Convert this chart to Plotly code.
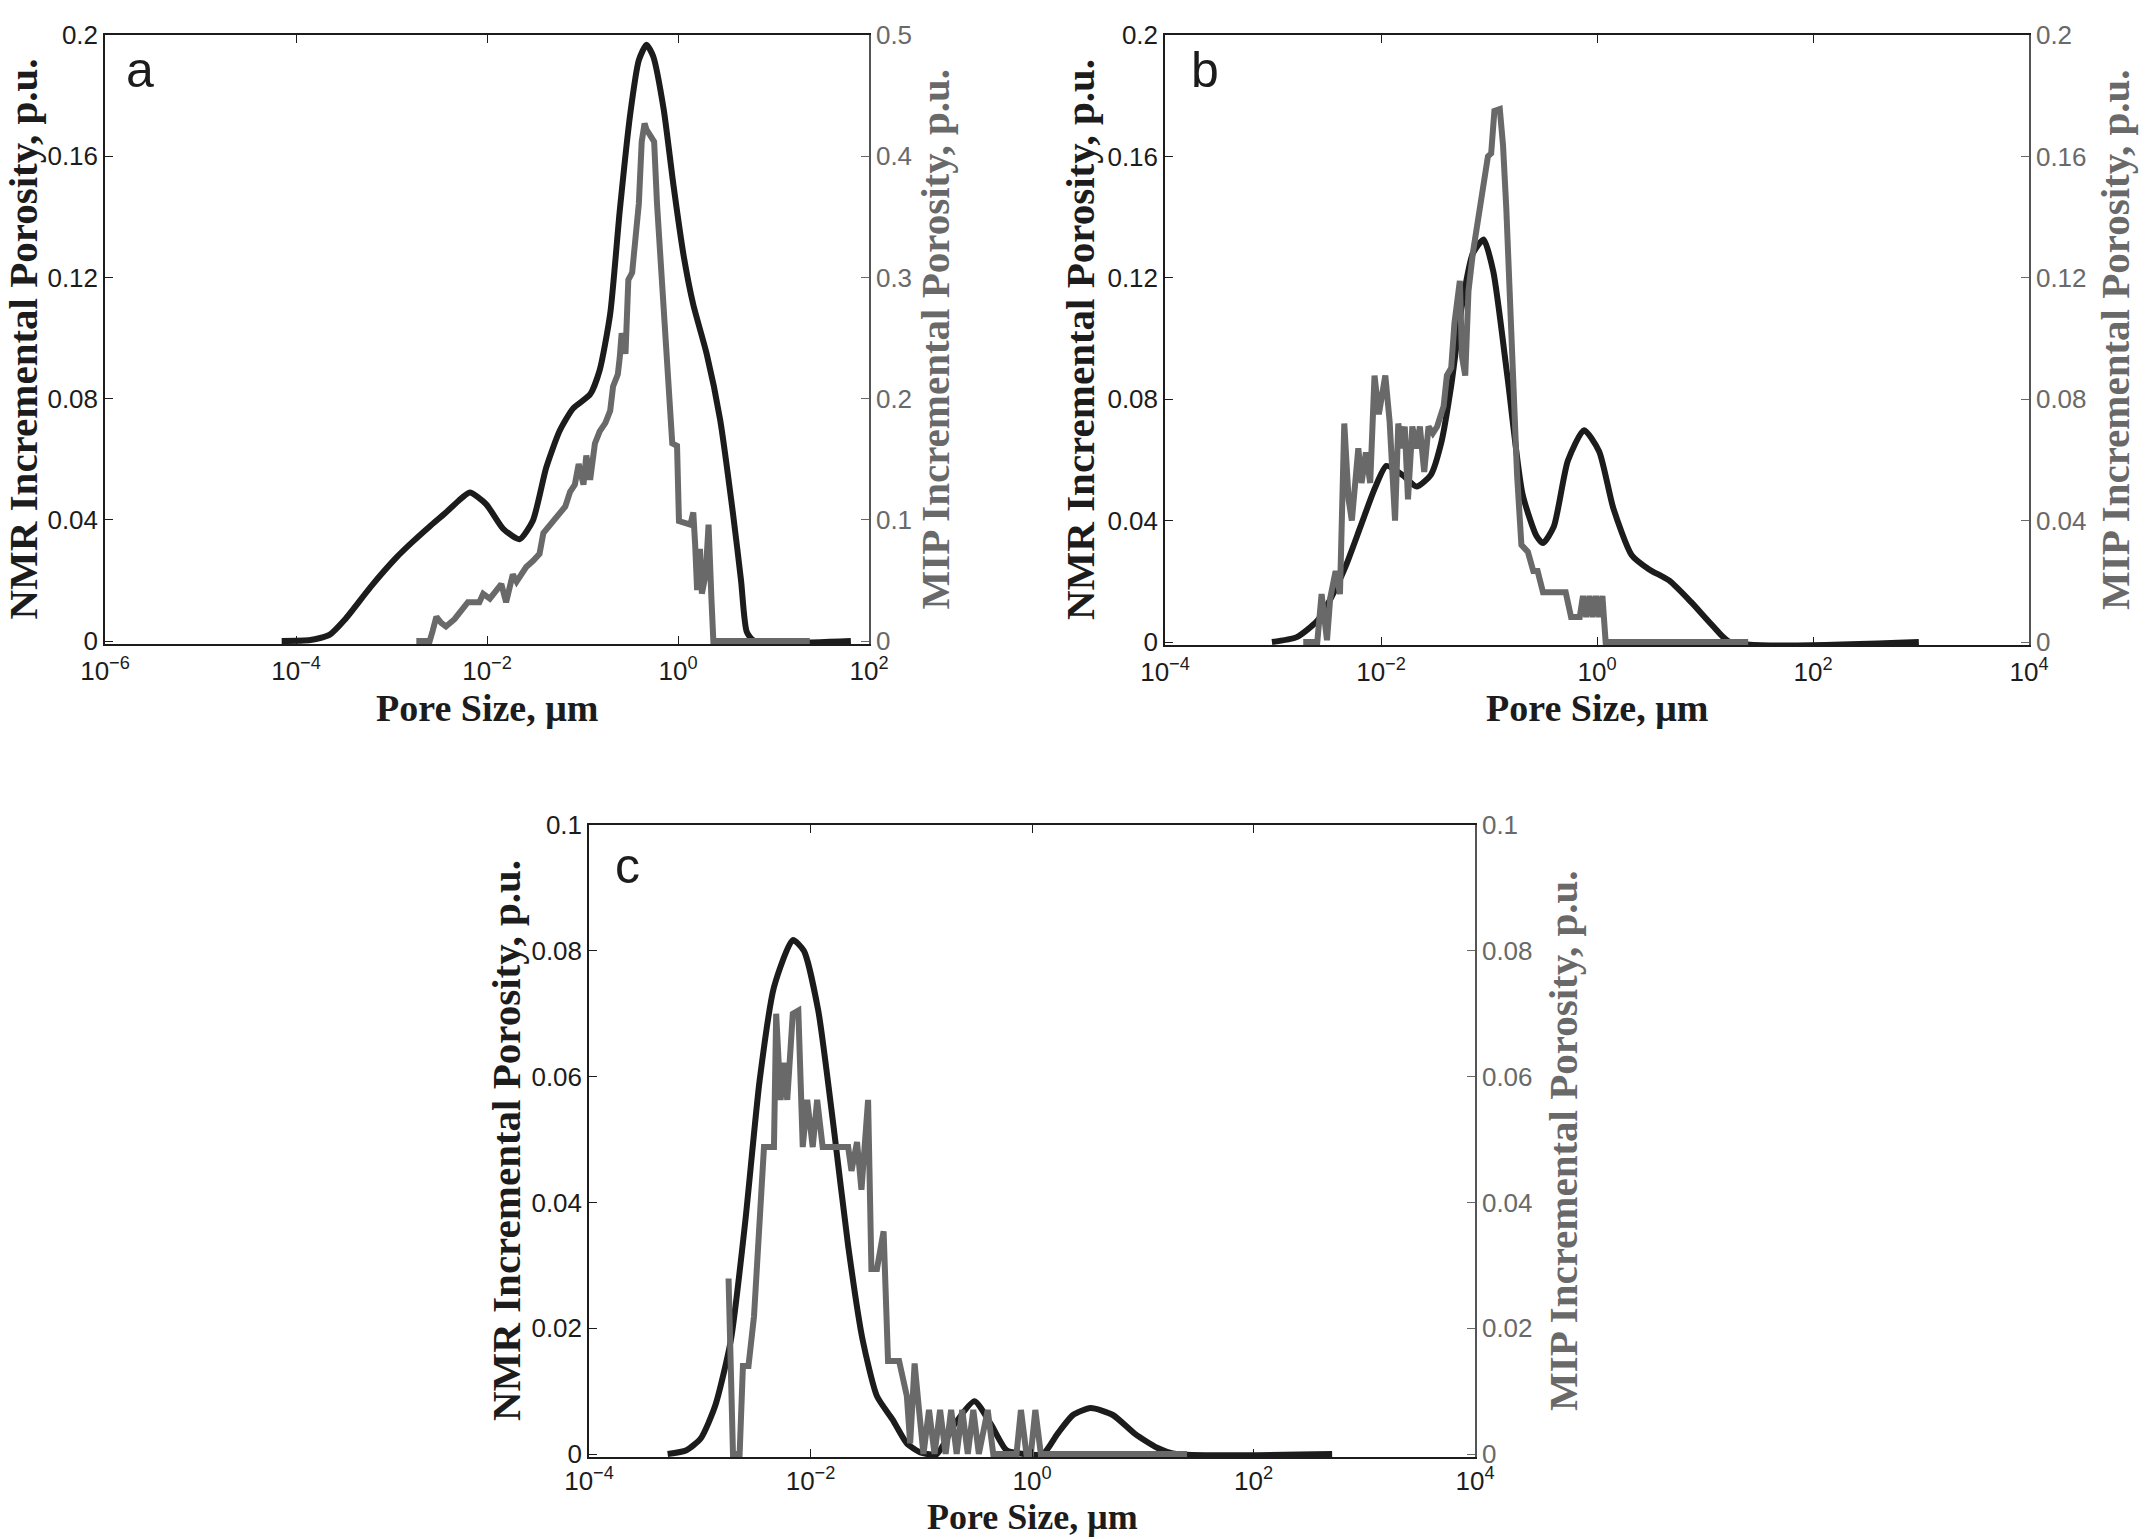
import plotly.graph_objects as go

# ---------------- data (pore size given as log10 of diameter in micrometres) ----------------
# Panel a
a_nmr_logd = [-4.15, -3.85, -3.65, -3.49, -3.22, -2.95, -2.78, -2.60, -2.43, -2.30, -2.18, -2.01,
              -1.83, -1.66, -1.52, -1.38, -1.24, -1.10, -0.92, -0.82, -0.71, -0.61, -0.50, -0.41,
              -0.33, -0.26, -0.15, -0.05, 0.06, 0.16, 0.30, 0.44, 0.58, 0.66, 0.72, 0.80, 1.81]
a_nmr_val = [0, 0.0003, 0.002, 0.007, 0.0178, 0.0275, 0.0327, 0.0378, 0.0424, 0.0462, 0.049, 0.0452,
             0.037, 0.0336, 0.0397, 0.0572, 0.0693, 0.0767, 0.0814, 0.0894, 0.108, 0.142, 0.174, 0.1917,
             0.1968, 0.193, 0.1755, 0.151, 0.127, 0.111, 0.0948, 0.0733, 0.041, 0.02, 0.003, 0, 0]
a_mip_logd = [-2.74, -2.60, -2.57, -2.53, -2.48, -2.43, -2.34, -2.27, -2.20, -2.08, -2.04, -1.97,
              -1.92, -1.85, -1.80, -1.73, -1.69, -1.59, -1.52, -1.45, -1.41, -1.32, -1.25, -1.18,
              -1.13, -1.08, -1.04, -0.99, -0.96, -0.92, -0.87, -0.82, -0.76, -0.71, -0.68, -0.63,
              -0.61, -0.59, -0.55, -0.52, -0.48, -0.45, -0.41, -0.38, -0.35, -0.33, -0.25, -0.22,
              -0.17, -0.12, -0.06, -0.01, 0.01, 0.13, 0.16, 0.18, 0.20, 0.23, 0.25, 0.29, 0.32,
              0.35, 0.37, 1.38]
a_mip_val = [0, 0, 0.008, 0.02, 0.015, 0.012, 0.018, 0.025, 0.032, 0.032, 0.039, 0.035,
             0.040, 0.047, 0.032, 0.055, 0.049, 0.061, 0.066, 0.072, 0.089, 0.098, 0.104, 0.111,
             0.123, 0.129, 0.146, 0.129, 0.153, 0.133, 0.163, 0.173, 0.180, 0.190, 0.210, 0.220,
             0.234, 0.254, 0.237, 0.298, 0.304, 0.328, 0.361, 0.412, 0.427, 0.422, 0.412, 0.361,
             0.294, 0.227, 0.163, 0.161, 0.099, 0.096, 0.106, 0.079, 0.042, 0.076, 0.039, 0.055, 0.096,
             0.035, 0, 0]

# Panel b
b_nmr_logd = [-3.01, -2.78, -2.59, -2.46, -2.32, -2.19, -2.06, -1.95, -1.80, -1.67, -1.54, -1.44,
              -1.35, -1.25, -1.15, -1.05, -0.96, -0.83, -0.69, -0.56, -0.50, -0.40, -0.27, -0.12,
              0.02, 0.15, 0.32, 0.48, 0.67, 0.87, 1.07, 1.23, 2.98]
b_nmr_val = [0, 0.0016, 0.007, 0.0147, 0.0256, 0.038, 0.0504, 0.058, 0.055, 0.0512, 0.055, 0.066,
             0.0845, 0.111, 0.128, 0.1326, 0.122, 0.0876, 0.0488, 0.0349, 0.0326, 0.038, 0.0597, 0.0698,
             0.0628, 0.0442, 0.0287, 0.024, 0.0202, 0.0132, 0.0054, 0, 0]
b_mip_logd = [-2.72, -2.59, -2.55, -2.50, -2.47, -2.42, -2.38, -2.34, -2.30, -2.27, -2.21, -2.18,
              -2.14, -2.10, -2.06, -2.02, -1.96, -1.92, -1.87, -1.84, -1.81, -1.78, -1.75, -1.71,
              -1.67, -1.64, -1.60, -1.56, -1.52, -1.48, -1.42, -1.39, -1.35, -1.32, -1.27, -1.25,
              -1.22, -1.19, -1.15, -1.09, -1.04, -1.01, -0.98, -0.95, -0.90, -0.87, -0.84, -0.81,
              -0.78, -0.74, -0.70, -0.64, -0.59, -0.55, -0.50, -0.29, -0.24, -0.16, -0.13, -0.10,
              -0.07, -0.04, -0.01, 0.02, 0.05, 0.08, 1.40]
b_mip_val = [0, 0, 0.0158, 0.0006, 0.0145, 0.0234, 0.0158, 0.072, 0.047, 0.040, 0.0638, 0.0524,
             0.0625, 0.0524, 0.0878, 0.075, 0.0878, 0.0726, 0.040, 0.072, 0.0638, 0.071, 0.047, 0.071,
             0.0638, 0.071, 0.056, 0.071, 0.0688, 0.071, 0.0777, 0.0878, 0.0903, 0.105, 0.119, 0.094,
             0.0878, 0.1156, 0.128, 0.142, 0.156, 0.160, 0.161, 0.175, 0.1756, 0.1636, 0.143, 0.113,
             0.085, 0.055, 0.032, 0.0297, 0.0234, 0.0234, 0.0164, 0.0164, 0.0082, 0.0082, 0.0152, 0.0082,
             0.0152, 0.0082, 0.0152, 0.0082, 0.0152, 0, 0]

# Panel c
c_nmr_logd = [-3.29, -3.12, -2.99, -2.86, -2.72, -2.59, -2.46, -2.33, -2.16, -2.06, -1.93, -1.79,
              -1.66, -1.53, -1.40, -1.26, -1.13, -1.00, -0.86, -0.70, -0.52, -0.37, -0.23, -0.07,
              0.10, 0.23, 0.37, 0.53, 0.73, 0.93, 1.13, 1.30, 2.71]
c_nmr_val = [0, 0.0006, 0.0025, 0.0077, 0.018, 0.0368, 0.0593, 0.0742, 0.0817, 0.080, 0.0705, 0.0518,
             0.0331, 0.0182, 0.0092, 0.0055, 0.0017, 0.0002, 0, 0.0047, 0.0084, 0.0047, 0.0006, 0,
             0, 0.0032, 0.0062, 0.0073, 0.0062, 0.0032, 0.001, 0, 0]
c_mip_logd = [-2.74, -2.70, -2.64, -2.61, -2.56, -2.51, -2.42, -2.33, -2.31, -2.27, -2.24, -2.21,
              -2.16, -2.11, -2.07, -2.03, -1.98, -1.94, -1.89, -1.66, -1.63, -1.58, -1.54, -1.48,
              -1.45, -1.40, -1.34, -1.30, -1.20, -1.13, -1.10, -1.06, -1.02, -0.98, -0.93, -0.88,
              -0.83, -0.78, -0.73, -0.68, -0.63, -0.58, -0.53, -0.48, -0.40, -0.35, -0.14, -0.10,
              -0.05, -0.01, 0.03, 0.08, 1.40]
c_mip_val = [0.0279, 0, 0, 0.014, 0.014, 0.0219, 0.0488, 0.0488, 0.070, 0.0563, 0.0622, 0.0563,
             0.070, 0.0705, 0.0488, 0.0563, 0.0488, 0.0563, 0.0488, 0.0488, 0.045, 0.0496, 0.042, 0.0563,
             0.0294, 0.0294, 0.0354, 0.0148, 0.0148, 0.0092, 0.0017, 0.0144, 0.007, 0, 0.007, 0,
             0.007, 0, 0.007, 0, 0.007, 0, 0.007, 0, 0.007, 0, 0, 0.007,
             0, 0, 0.007, 0, 0]

# axis ticks
a_x_exps = [-6, -4, -2, 0, 2]
bc_x_exps = [-4, -2, 0, 2, 4]
ab_left_ticks = [0, 0.04, 0.08, 0.12, 0.16, 0.2]
ab_left_text = ["0", "0.04", "0.08", "0.12", "0.16", "0.2"]
a_right_ticks = [0, 0.1, 0.2, 0.3, 0.4, 0.5]
a_right_text = ["0", "0.1", "0.2", "0.3", "0.4", "0.5"]
c_ticks = [0, 0.02, 0.04, 0.06, 0.08, 0.1]
c_text = ["0", "0.02", "0.04", "0.06", "0.08", "0.1"]

panel_labels = ["a", "b", "c"]
x_title = "Pore Size, μm"
y_left_title = "NMR Incremental Porosity, p.u."
y_right_title = "MIP Incremental Porosity, p.u."

# ---------------- styling ----------------
W, H = 2153, 1539
BLACK = "#1c1c1c"
GRAY = "#696969"
TICK_FONT = dict(family="Liberation Sans, Arial, sans-serif", size=26)
TITLE_FONT = "Liberation Serif, Times New Roman, serif"

# plot-area boxes in pixels: (left, right, top, bottom)
boxes = [(105, 869, 35, 644), (1165, 2029, 35, 645), (589, 1475, 825, 1457)]


def xdom(b):
    return [b[0] / W, b[1] / W]


def ydom(b):
    return [1 - b[3] / H, 1 - b[2] / H]


def exps_text(exps):
    return ["10<sup>" + ("−" if e < 0 else "") + str(abs(e)) + "</sup>" for e in exps]


def yrange(top, box):
    # start slightly below zero so that the thick zero-level lines are not clipped
    pad_px = 3.0
    span_px = box[3] - box[2]
    return [-top * pad_px / (span_px - pad_px), top]


fig = go.Figure()

panels = [
    (a_nmr_logd, a_nmr_val, a_mip_logd, a_mip_val),
    (b_nmr_logd, b_nmr_val, b_mip_logd, b_mip_val),
    (c_nmr_logd, c_nmr_val, c_mip_logd, c_mip_val),
]

for i, (nl, nv, ml, mv) in enumerate(panels):
    n = i + 1
    xs = "x" if n == 1 else f"x{n}"
    yl = "y" if n == 1 else f"y{n}"
    yr = f"y{n + 3}"
    fig.add_trace(go.Scatter(x=[10 ** v for v in nl], y=nv, xaxis=xs, yaxis=yl, mode="lines",
                             line=dict(color=BLACK, width=6, shape="spline", smoothing=0.6),
                             name="NMR", showlegend=False))
    fig.add_trace(go.Scatter(x=[10 ** v for v in ml], y=mv, xaxis=xs, yaxis=yr, mode="lines",
                             line=dict(color=GRAY, width=6), name="MIP", showlegend=False))

x_specs = [(a_x_exps, [-6, 2]), (bc_x_exps, [-4, 4]), (bc_x_exps, [-4, 4])]
left_specs = [(ab_left_ticks, ab_left_text, 0.2), (ab_left_ticks, ab_left_text, 0.2),
              (c_ticks, c_text, 0.1)]
right_specs = [(a_right_ticks, a_right_text, 0.5), (ab_left_ticks, ab_left_text, 0.2),
               (c_ticks, c_text, 0.1)]
x_standoff = [3, 3, 0]

layout = dict(width=W, height=H, margin=dict(l=0, r=0, t=0, b=0, pad=0, autoexpand=False),
              paper_bgcolor="white", plot_bgcolor="white", showlegend=False)

for i, b in enumerate(boxes):
    n = i + 1
    sx = "" if n == 1 else str(n)
    exps, xr = x_specs[i]
    layout["xaxis" + sx] = dict(
        domain=xdom(b), anchor="y" + sx, type="log", range=xr, automargin=False,
        tickvals=[10 ** e for e in exps], ticktext=exps_text(exps), ticklabelstandoff=x_standoff[i],
        ticks="inside", ticklen=8, tickcolor=BLACK, showline=True, linecolor=BLACK, linewidth=1.5,
        mirror="ticks", showgrid=False, zeroline=False,
        tickfont=dict(color=BLACK, **TICK_FONT))
    lt, ltxt, ltop = left_specs[i]
    layout["yaxis" + sx] = dict(
        domain=ydom(b), anchor="x" + sx, range=yrange(ltop, b), tickvals=lt, ticktext=ltxt,
        automargin=False, ticks="inside", ticklen=8, tickcolor=BLACK, showline=True,
        linecolor=BLACK, linewidth=1.5,
        showgrid=False, zeroline=False, tickfont=dict(color=BLACK, **TICK_FONT))
    rt, rtxt, rtop = right_specs[i]
    layout["yaxis" + str(n + 3)] = dict(
        overlaying="y" + sx, side="right", anchor="x" + sx, range=yrange(rtop, b), tickvals=rt,
        ticktext=rtxt, automargin=False,
        ticks="inside", ticklen=8, tickcolor=GRAY, showline=True, linecolor="#555555", linewidth=1.5,
        showgrid=False, zeroline=False, tickfont=dict(color=GRAY, **TICK_FONT))

annotations = []
letter_pos = [(140, 70), (1205, 70), (627, 866)]
left_title_x = [22, 1080, 506]
right_title_x = [934, 2115, 1563]
xtitle_y = [708, 708, 1517]
xtitle_size = [38, 38, 36]
for i, b in enumerate(boxes):
    lx, ly = letter_pos[i]
    annotations.append(dict(text=panel_labels[i], x=lx / W, y=1 - ly / H, xref="paper", yref="paper",
                            xanchor="center", yanchor="middle", showarrow=False,
                            font=dict(family="Liberation Sans, Arial, sans-serif", size=50, color=BLACK)))
    yc = (b[2] + b[3]) / 2
    annotations.append(dict(text=y_left_title, x=left_title_x[i] / W, y=1 - yc / H, xref="paper",
                            yref="paper", xanchor="center", yanchor="middle", textangle=-90,
                            showarrow=False,
                            font=dict(family=TITLE_FONT, size=41, color=BLACK, weight="bold")))
    annotations.append(dict(text=y_right_title, x=right_title_x[i] / W, y=1 - yc / H, xref="paper",
                            yref="paper", xanchor="center", yanchor="middle", textangle=-90,
                            showarrow=False,
                            font=dict(family=TITLE_FONT, size=41, color=GRAY, weight="bold")))
    xc = (b[0] + b[1]) / 2
    annotations.append(dict(text=x_title, x=xc / W, y=1 - xtitle_y[i] / H, xref="paper", yref="paper",
                            xanchor="center", yanchor="middle", showarrow=False,
                            font=dict(family=TITLE_FONT, size=xtitle_size[i], color=BLACK, weight="bold")))

layout["annotations"] = annotations
fig.update_layout(**layout)
fig.write_html("out.html")
